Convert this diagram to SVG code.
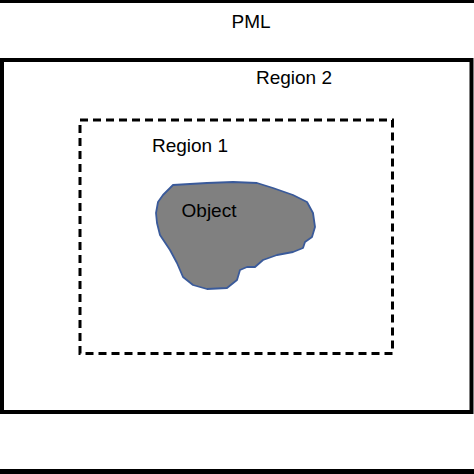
<svg xmlns="http://www.w3.org/2000/svg" width="474" height="474" viewBox="0 0 474 474">
<style>
.lbl{font-family:"Liberation Sans",Arial,sans-serif;font-size:19px;fill:#000}
</style>
<rect width="474" height="474" fill="#fff"/>
<g id="pml">
<line x1="0" y1="1.5" x2="474" y2="1.5" stroke="#000" stroke-width="3"/>
<line x1="0" y1="471.5" x2="474" y2="471.5" stroke="#000" stroke-width="5"/>
<text class="lbl" x="251" y="28" text-anchor="middle">PML</text>
</g>
<g id="region2">
<rect x="2" y="60" width="469.5" height="352" fill="none" stroke="#000" stroke-width="4"/>
<text class="lbl" x="294" y="84" text-anchor="middle">Region 2</text>
</g>
<g id="region1">
<rect x="80" y="120" width="312.5" height="233.5" fill="none" stroke="#000" stroke-width="3" stroke-dasharray="8 5"/>
<text class="lbl" x="190" y="152" text-anchor="middle">Region 1</text>
</g>
<g id="object">
<path d="M158,202 L163,195 L173,185 L207,183 L233,182 L257,183 L273,188 L293,195 L307,202 L313,213 L315,227 L312,237 L305,242 L303,248 L293,252 L277,255 L263,260 L255,267 L247,267 L240,270 L237,280 L227,288 L207,289 L193,285 L183,277 L177,263 L170,250 L160,235 L157,223 L156,213 Z" fill="#808080" stroke="#3a5a9a" stroke-width="1.8" stroke-linejoin="round"/>
<text class="lbl" x="209" y="217" text-anchor="middle">Object</text>
</g>
<g id="connectors"/>
</svg>
